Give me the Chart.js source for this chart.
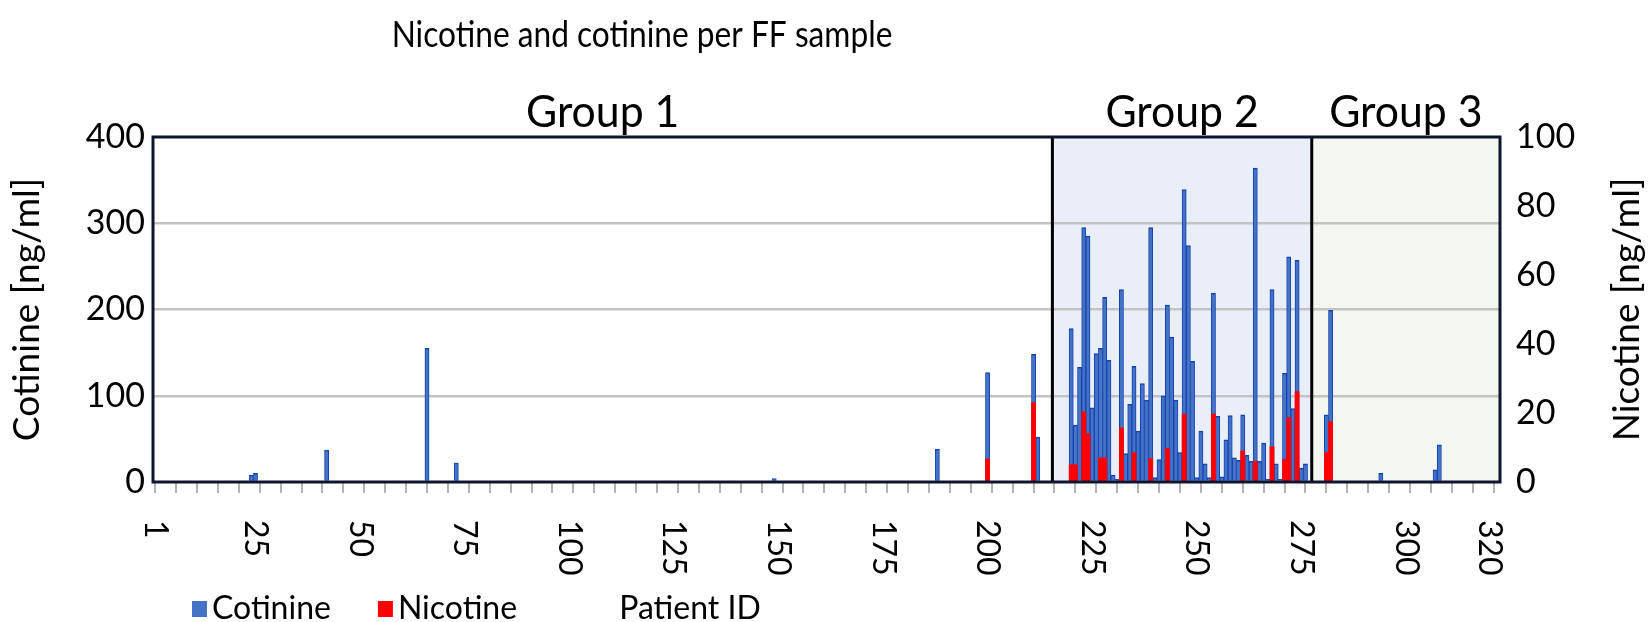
<!DOCTYPE html>
<html>
<head>
<meta charset="utf-8">
<script src="https://cdn.jsdelivr.net/npm/chart.js@4.4.0/dist/chart.umd.min.js"></script>
<style>
  html, body { margin: 0; padding: 0; background: #fff; }
  #contenedor { width: 1651px; height: 622px; position: relative; }
</style>
</head>
<body>
<div id="contenedor"><canvas id="grafica"></canvas></div>
<script>
// datos
const totalPacientes = 322;
const etiquetasEje = [1, 25, 50, 75, 100, 125, 150, 175, 200, 225, 250, 275, 300, 320];
const nombresGrupos = ["Group 1", "Group 2", "Group 3"];
const limitesGrupos = [215.5, 277.5]; // entre pacientes

const cotininaId = [24, 25, 42, 66, 73, 149, 188, 200, 211, 212,
  220, 221, 222, 223, 224, 225, 226, 227, 228, 229, 230, 231, 232, 233, 234, 235, 236, 237, 238, 239,
  240, 241, 242, 243, 244, 245, 246, 247, 248, 249, 250, 251, 252, 253, 254, 255, 256, 257, 258, 259,
  260, 261, 262, 263, 264, 265, 266, 267, 268, 269, 270, 271, 272, 273, 274, 275, 276,
  281, 282, 294, 307, 308];
const cotininaValor = [8, 10, 37, 155, 22, 4, 38, 127, 148, 52,
  178, 66, 133, 295, 285, 86, 149, 155, 214, 141, 8, 3, 223, 33, 90, 134, 59, 114, 95, 295,
  5, 26, 100, 205, 168, 95, 34, 339, 274, 140, 5, 59, 21, 5, 219, 76, 6, 49, 77, 28,
  25, 78, 31, 24, 364, 24, 45, 3, 223, 21, 3, 126, 261, 85, 257, 16, 21,
  78, 199, 10, 14, 43];

const nicotinaId = [200, 211, 220, 221, 223, 224, 227, 228, 232, 235, 239, 243, 247, 254,
  261, 264, 268, 271, 272, 274, 281, 282];
const nicotinaValor = [6.7, 23, 5, 5, 20.4, 14, 7, 7, 15.7, 8.5, 6.8, 9.7, 19.7, 19.7,
  9, 6, 10.2, 6.6, 18.7, 26.2, 8.5, 17.5];

const pacientes = Array.from({ length: totalPacientes }, (_, i) => String(i + 1));

function armarSerie(ids, valores) {
  const serie = pacientes.map(() => null);
  ids.forEach((id, i) => { serie[id - 1] = valores[i]; });
  return serie;
}

const fuente = "Lato, 'Open Sans', sans-serif";

// texto algo angosto, parecido a Calibri
function textoAngosto(ctx, texto, x, y, ancho) {
  ctx.save();
  ctx.translate(x, y);
  ctx.scale(ancho, 1);
  ctx.fillText(texto, 0, 0);
  ctx.restore();
}

const decoracion = {
  id: "decoracion",
  beforeDraw(chart) {
    const { ctx, chartArea: a, scales: { x } } = chart;
    const l1 = x.getPixelForValue(limitesGrupos[0] - 1);
    const l2 = x.getPixelForValue(limitesGrupos[1] - 1);
    ctx.save();
    ctx.fillStyle = "#e9eef8";
    ctx.fillRect(l1, a.top, l2 - l1, a.bottom - a.top);
    ctx.fillStyle = "#f4f7ef";
    ctx.fillRect(l2, a.top, a.right - l2, a.bottom - a.top);
    ctx.restore();
  },
  afterDatasetsDraw(chart) {
    const { ctx, chartArea: a, scales: { x } } = chart;
    ctx.save();
    ctx.strokeStyle = "#000";
    ctx.lineWidth = 3;
    limitesGrupos.forEach((lim) => {
      const px = x.getPixelForValue(lim - 1);
      ctx.beginPath();
      ctx.moveTo(px, a.top);
      ctx.lineTo(px, a.bottom);
      ctx.stroke();
    });
    ctx.strokeStyle = "#0d1631";
    ctx.strokeRect(a.left, a.top, a.right - a.left, a.bottom - a.top);
    ctx.restore();
  },
  afterDraw(chart) {
    const { ctx, chartArea: a, scales: { x } } = chart;
    ctx.save();
    ctx.fillStyle = "#000";

    // titulo
    ctx.font = `36px ${fuente}`;
    ctx.textAlign = "center";
    ctx.textBaseline = "middle";
    textoAngosto(ctx, "Nicotine and cotinine per FF sample", 642, 35, 0.88);

    // nombres de grupos
    const bordes = [a.left, x.getPixelForValue(limitesGrupos[0] - 1), x.getPixelForValue(limitesGrupos[1] - 1), a.right];
    ctx.font = `45px ${fuente}`;
    nombresGrupos.forEach((nombre, i) => {
      textoAngosto(ctx, nombre, (bordes[i] + bordes[i + 1]) / 2, 112, 0.95);
    });

    // etiquetas del eje x (giradas)
    ctx.font = `32px ${fuente}`;
    ctx.textAlign = "left";
    etiquetasEje.forEach((val) => {
      const px = x.getPixelForValue(val - 1);
      ctx.save();
      ctx.translate(px, 520);
      ctx.rotate(Math.PI / 2);
      ctx.fillText(String(val), 0, 0);
      ctx.restore();
    });

    // titulos de los ejes y
    const medio = (a.top + a.bottom) / 2;
    ctx.font = `37px ${fuente}`;
    ctx.textAlign = "center";
    [["Cotinine [ng/ml]", 27], ["Nicotine [ng/ml]", 1627]].forEach(([texto, px]) => {
      ctx.save();
      ctx.translate(px, medio);
      ctx.rotate(-Math.PI / 2);
      ctx.fillText(texto, 0, 0);
      ctx.restore();
    });

    // leyenda y titulo del eje x
    ctx.font = `32px ${fuente}`;
    ctx.textAlign = "left";
    let posX = 192;
    chart.data.datasets.forEach((ds) => {
      ctx.fillStyle = ds.backgroundColor;
      ctx.fillRect(posX, 601, 15, 16);
      ctx.fillStyle = "#000";
      ctx.fillText(ds.label, posX + 20, 609);
      posX += 20 + ctx.measureText(ds.label).width + 47;
    });
    ctx.textAlign = "center";
    ctx.fillText("Patient ID", 690, 609);
    ctx.restore();
  }
};

const config = {
  type: "bar",
  data: {
    labels: pacientes,
    datasets: [
      {
        label: "Cotinine",
        data: armarSerie(cotininaId, cotininaValor),
        yAxisID: "y",
        backgroundColor: "#4472c4",
        borderColor: "#1444b2",
        borderWidth: { top: 1.5, left: 1, right: 1, bottom: 0 },
        grouped: false,
        categoryPercentage: 1,
        barPercentage: 1,
        order: 2
      },
      {
        label: "Nicotine",
        data: armarSerie(nicotinaId, nicotinaValor),
        yAxisID: "y1",
        backgroundColor: "#ff0000",
        borderWidth: 0,
        grouped: false,
        categoryPercentage: 1,
        barPercentage: 1,
        order: 1
      }
    ]
  },
  options: {
    responsive: false,
    animation: false,
    layout: { padding: { top: 137, left: 0, right: 0, bottom: 0 } },
    plugins: { legend: { display: false }, title: { display: false }, tooltip: { enabled: false } },
    scales: {
      x: {
        type: "category",
        offset: true,
        border: { display: false },
        grid: {
          offset: false,
          drawOnChartArea: false,
          drawTicks: true,
          tickLength: 11,
          lineWidth: 2,
          color: (ctx) => (ctx.index % 5 === 0 ? "#b3b3b3" : "rgba(0,0,0,0)")
        },
        ticks: { display: false, autoSkip: false },
        afterFit: (s) => { s.height = 140; }
      },
      y: {
        position: "left",
        min: 0,
        max: 400,
        border: { display: false },
        grid: {
          drawTicks: false,
          lineWidth: 2.5,
          color: (ctx) => (ctx.tick && ctx.tick.value > 0 && ctx.tick.value < 400 ? "#c3c3c3" : "rgba(0,0,0,0)")
        },
        ticks: { stepSize: 100, padding: 8, color: "#000", font: { family: fuente, size: 34 } },
        afterFit: (s) => { s.width = 153; }
      },
      y1: {
        position: "right",
        min: 0,
        max: 100,
        border: { display: false },
        grid: { display: false, drawOnChartArea: false },
        ticks: { stepSize: 20, padding: 8, color: "#000", font: { family: fuente, size: 34 } },
        afterFit: (s) => { s.width = 151; }
      }
    }
  },
  plugins: [decoracion]
};

const canvas = document.getElementById("grafica");
canvas.width = 1651;
canvas.height = 622;
canvas.style.width = "1651px";
canvas.style.height = "622px";
window.grafica = new Chart(canvas, config);
</script>
</body>
</html>
